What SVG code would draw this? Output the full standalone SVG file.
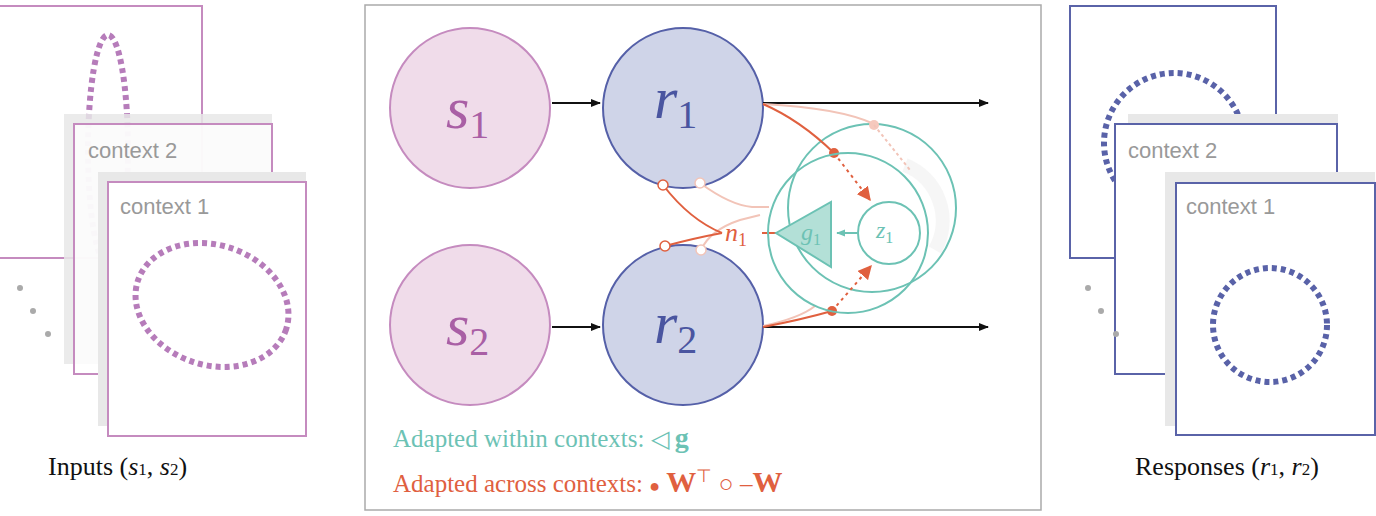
<svg xmlns="http://www.w3.org/2000/svg" width="1376" height="516" viewBox="0 0 1376 516">
<style>
.pf{fill:#fff;stroke:#c58bbf;stroke-width:2}
.bf{fill:#fff;stroke:#5a63a8;stroke-width:2}
.sh{fill:#e8e8e8}
.pd{fill:none;stroke:#b67cba;stroke-width:6;stroke-dasharray:5 4}
.bd{fill:none;stroke:#5962a8;stroke-width:6;stroke-dasharray:5 4}
.ctx{font-family:"Liberation Sans",sans-serif;font-size:22px;fill:#999}
.cap{font-family:"Liberation Serif",serif;font-size:26px;fill:#111}
.m{font-family:"Liberation Serif",serif;font-style:italic}
.t{fill:none;stroke:#6cc2b4;stroke-width:2}
.r{fill:none;stroke:#e0603f;stroke-width:2}
.lp{fill:none;stroke:#f2c4b8;stroke-width:2}
</style>
<defs>
<marker id="ak" viewBox="0 0 10 10" refX="9" refY="5" markerWidth="10" markerHeight="10" markerUnits="userSpaceOnUse" orient="auto"><path d="M0,1 L10,5 L0,9 Z" fill="#111"/></marker>
<marker id="ar" viewBox="0 0 10 10" refX="9" refY="5" markerWidth="14" markerHeight="14" markerUnits="userSpaceOnUse" orient="auto"><path d="M0,0 L10,5 L0,10 Z" fill="#e0603f"/></marker>
<marker id="at" viewBox="0 0 10 10" refX="9" refY="5" markerWidth="9" markerHeight="9" markerUnits="userSpaceOnUse" orient="auto"><path d="M0,1 L10,5 L0,9 Z" fill="#6cc2b4"/></marker>
</defs>
<rect width="1376" height="516" fill="#fff"/>
<g id="inputs">
<rect class="pf" x="-2" y="6" width="204" height="252"/>
<ellipse class="pd" cx="108" cy="150" rx="20" ry="115"/>
<rect class="sh" x="64" y="114" width="208" height="250" fill-opacity="0.85"/>
<rect class="pf" x="74" y="124" width="198" height="250" fill-opacity="0.8"/>
<text class="ctx" x="88" y="158">context 2</text>
<rect class="sh" x="98" y="172" width="208" height="254"/>
<rect class="pf" x="108" y="182" width="198" height="254"/>
<text class="ctx" x="120" y="214">context 1</text>
<ellipse class="pd" cx="212" cy="305" rx="78" ry="60" transform="rotate(18 212 305)"/>
<circle cx="20" cy="288" r="3" fill="#aaa"/><circle cx="33" cy="311" r="3" fill="#aaa"/><circle cx="48" cy="334" r="3" fill="#aaa"/>
<text class="cap" x="48" y="475">Inputs (<tspan class="m">s</tspan><tspan font-size="17">1</tspan>, <tspan class="m">s</tspan><tspan font-size="17">2</tspan>)</text>
</g>
<rect x="365" y="5" width="676" height="505" fill="none" stroke="#aaa" stroke-width="1.5"/>
<g id="ctxshadow"><circle cx="872" cy="208" r="84" class="t"/><path d="M905,165 A60,60 0 0 1 935,250" stroke="#eeeeee" stroke-width="14" fill="none" opacity="0.5"/></g>
<g id="s1"><circle cx="470" cy="108" r="80" fill="#f0dcea" stroke="#c58bbf" stroke-width="2"/><text class="m" x="446" y="128" font-size="60" fill="#a95fa5">s<tspan font-size="40" font-style="normal" dy="10">1</tspan></text></g>
<g id="s2"><circle cx="470" cy="325" r="80" fill="#f0dcea" stroke="#c58bbf" stroke-width="2"/><text class="m" x="446" y="345" font-size="60" fill="#a95fa5">s<tspan font-size="40" font-style="normal" dy="10">2</tspan></text></g>
<g id="r1"><circle cx="683" cy="108" r="80" fill="#cfd4e8" stroke="#5560a8" stroke-width="2"/><text class="m" x="654" y="118" font-size="60" fill="#4a55a0">r<tspan font-size="40" font-style="normal" dy="10">1</tspan></text></g>
<g id="r2"><circle cx="683" cy="325" r="80" fill="#cfd4e8" stroke="#5560a8" stroke-width="2"/><text class="m" x="654" y="343" font-size="60" fill="#4a55a0">r<tspan font-size="40" font-style="normal" dy="10">2</tspan></text></g>
<g id="connectors">
<line x1="552" y1="103" x2="600" y2="103" stroke="#111" stroke-width="2" marker-end="url(#ak)"/>
<line x1="552" y1="327" x2="600" y2="327" stroke="#111" stroke-width="2" marker-end="url(#ak)"/>
<line x1="763" y1="103" x2="988" y2="103" stroke="#111" stroke-width="2" marker-end="url(#ak)"/>
<line x1="763" y1="327" x2="988" y2="327" stroke="#111" stroke-width="2" marker-end="url(#ak)"/>
<path class="lp" d="M763,104 Q840,108 874,124"/>
<circle cx="874" cy="125" r="5" fill="#f6c9bd"/>
<path class="lp" d="M874,125 L910,170" stroke-dasharray="3 3"/>
<path class="r" d="M763,104 Q800,120 834,153"/>
<circle cx="834" cy="153" r="5" fill="#e0603f"/>
<path class="r" d="M834,153 L870,200" stroke-dasharray="3 4" marker-end="url(#ar)"/>
<path class="lp" d="M763,326 Q800,318 815,306"/>
<path class="r" d="M763,327 Q800,320 832,311"/>
<circle cx="832" cy="311" r="5" fill="#e0603f"/>
<path class="r" d="M832,311 L871,266" stroke-dasharray="3 4" marker-end="url(#ar)"/>
<path class="lp" d="M700,183 Q730,205 752,207 L769,207"/>
<path class="lp" d="M701,250 Q710,230 740,220 L760,215"/>
<path class="r" d="M663,185 Q690,220 722,233"/>
<path class="r" d="M665,246 Q695,238 722,233"/>
<circle cx="663" cy="185" r="5" fill="#fff" stroke="#e0603f" stroke-width="1.5"/>
<circle cx="700" cy="183" r="5" fill="#fff" stroke="#f2c4b8" stroke-width="1.5"/>
<circle cx="665" cy="246" r="5" fill="#fff" stroke="#e0603f" stroke-width="1.5"/>
<circle cx="701" cy="250" r="5" fill="#fff" stroke="#f2c4b8" stroke-width="1.5"/>
<line class="r" x1="762" y1="233" x2="776" y2="233"/>
<line class="t" x1="857" y1="233" x2="837" y2="233" marker-end="url(#at)"/>
</g>
<g id="context"><circle class="t" cx="848" cy="233" r="80"/></g>
<g id="g1"><polygon points="776,233 831,202 831,267" fill="#b3e0d7" stroke="#6cc2b4" stroke-width="2"/><text class="m" x="801" y="240" font-size="24" fill="#6cc2b4">g<tspan font-size="16" font-style="normal" dy="5">1</tspan></text></g>
<g id="z1"><circle class="t" cx="889" cy="233" r="31"/><text class="m" x="876" y="238" font-size="24" fill="#6cc2b4">z<tspan font-size="16" font-style="normal" dy="5">1</tspan></text></g>
<g id="n1"><text class="m" x="725" y="241" font-size="26" fill="#e0603f">n<tspan font-size="18" font-style="normal" dy="5">1</tspan></text></g>
<g id="legend" font-family="Liberation Serif,serif" font-size="25">
<text x="393" y="447" fill="#6cc2b4">Adapted within contexts: <tspan font-size="24">◁</tspan> <tspan font-weight="bold" font-size="28">g</tspan></text>
<text x="393" y="492" fill="#e0603f">Adapted across contexts: <tspan font-size="18">●</tspan> <tspan font-weight="bold" font-size="30">W</tspan><tspan font-size="18" dy="-10">⊤</tspan><tspan dy="10"> ○ –</tspan><tspan font-weight="bold" font-size="30">W</tspan></text>
</g>
<g id="responses">
<rect class="bf" x="1070" y="6" width="206" height="252"/>
<circle class="bd" cx="1174" cy="143" r="70"/>
<rect class="sh" x="1128" y="114" width="210" height="250"/>
<rect class="bf" x="1115" y="124" width="222" height="250"/>
<text class="ctx" x="1128" y="158">context 2</text>
<rect class="sh" x="1165" y="172" width="210" height="254"/>
<rect class="bf" x="1176" y="183" width="199" height="252"/>
<text class="ctx" x="1186" y="214">context 1</text>
<circle class="bd" cx="1270" cy="325" r="57"/>
<circle cx="1088" cy="288" r="3" fill="#aaa"/><circle cx="1101" cy="311" r="3" fill="#aaa"/><circle cx="1116" cy="334" r="3" fill="#aaa"/>
<text class="cap" x="1135" y="475">Responses (<tspan class="m">r</tspan><tspan font-size="17">1</tspan>, <tspan class="m">r</tspan><tspan font-size="17">2</tspan>)</text>
</g>
</svg>
